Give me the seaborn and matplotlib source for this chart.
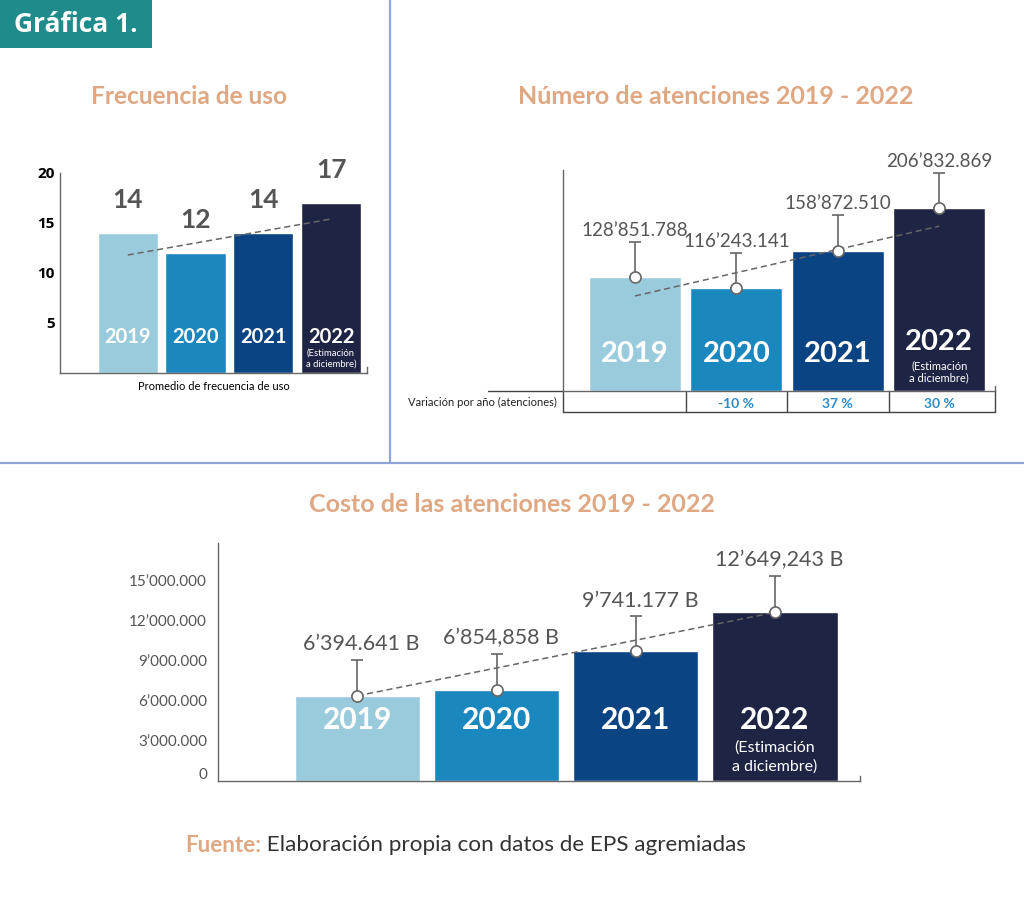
import matplotlib
matplotlib.use("Agg")
import matplotlib.pyplot as plt
import matplotlib.transforms as mtransforms
from matplotlib.patches import Rectangle
import numpy as np
import seaborn as sns

W, H = 1024, 899

YEARS = ["2019", "2020", "2021", "2022"]
COLORS = ["#9ACBDD", "#1A87BE", "#0B4482", "#1E2444"]

FREQ = [14, 12, 14, 17]
FREQ_TREND = [11.8, 15.4]

ATT = [128851788, 116243141, 158872510, 206832869]
ATT_LABELS = ["128’851.788", "116’243.141", "158’872.510", "206’832.869"]
ATT_ERR = [40e6, 40e6, 40e6, 40e6]
ATT_TREND = [107.5e6, 186.5e6]
ATT_VAR = ["", "-10 %", "37 %", "30 %"]

COST = [6394641, 6854858, 9741177, 12649243]
COST_LABELS = ["6’394.641 B", "6’854,858 B", "9’741.177 B", "12’649,243 B"]
COST_ERR = [2.7e6, 2.7e6, 2.6e6, 2.75e6]
COST_TREND = [6.39e6, 12.65e6]
COST_TICKS = [0, 3e6, 6e6, 9e6, 12e6, 15e6]
COST_TICK_LABELS = ["0", "3’000.000", "6’000.000", "9’000.000", "12’000.000", "15’000.000"]

TAN = "#DFA883"
TEAL = "#1F8B8A"
DIVIDER = "#8EA5D6"
GRAY = "#555555"
AXIS = "#666666"
BLUE_TXT = "#2D8BC7"


def px_axes(fig, left, top, right, bottom):
    return fig.add_axes([left / W, 1 - bottom / H, (right - left) / W, (bottom - top) / H])


def style_axis(ax, tick_len, show_right_tick=True):
    sns.despine(ax=ax, top=True, right=not show_right_tick)
    for side in ["left", "bottom", "right"]:
        ax.spines[side].set_color(AXIS)
        ax.spines[side].set_linewidth(1.0)
    ax.tick_params(axis="y", direction="in", length=tick_len, width=1.0, color=AXIS)
    ax.tick_params(axis="x", length=0)
    ax.set_xlabel("")
    ax.set_ylabel("")
    ax.set_xticks([])


def bars(ax, values, width):
    sns.barplot(x=YEARS, y=values, hue=YEARS, palette=COLORS, width=width,
                saturation=1, legend=False, ax=ax)


def year_labels(ax, y_main, y_est, main_size, est_size, est_dy, y_2022=None):
    for i, yr in enumerate(YEARS):
        yy = y_2022 if (i == 3 and y_2022 is not None) else y_main
        ax.text(i, yy, yr, color="white", ha="center", va="center",
                fontsize=main_size, fontweight="bold")
    ax.text(3, y_est, "(Estimación", color="white", ha="center", va="center", fontsize=est_size)
    ax.text(3, y_est - est_dy, "a diciembre)", color="white", ha="center", va="center", fontsize=est_size)


def main() -> None:
    sns.set_theme(style="white")
    plt.rcParams["font.family"] = ["Lato", "DejaVu Sans"]
    fig = plt.figure(figsize=(W / 100, H / 100), dpi=100, facecolor="white")

    # background decoration layer in pixel coordinates
    bg = fig.add_axes([0, 0, 1, 1])
    bg.set_xlim(0, W)
    bg.set_ylim(H, 0)
    bg.axis("off")
    bg.add_patch(Rectangle((0, 0), 152, 48, color=TEAL, lw=0))
    bg.text(14, 25, "Gráfica 1.", color="white", fontsize=19, fontweight="bold",
            va="center", ha="left", family=["Open Sans", "DejaVu Sans"])
    bg.plot([390, 390], [0, 463], color=DIVIDER, lw=1.6)
    bg.plot([0, W], [463, 463], color=DIVIDER, lw=1.6)
    bg.text(189, 97, "Frecuencia de uso", color=TAN, fontsize=17.6, fontweight="bold", ha="center", va="center")
    bg.text(716, 97, "Número de atenciones 2019 - 2022", color=TAN, fontsize=18, fontweight="bold", ha="center", va="center")
    bg.text(512, 505, "Costo de las atenciones 2019 - 2022", color=TAN, fontsize=18, fontweight="bold", ha="center", va="center")
    src = bg.text(185, 845, "Fuente:", color=TAN, fontsize=16.2, fontweight="bold", ha="left", va="center")
    bg.annotate(" Elaboración propia con datos de EPS agremiadas", xy=(1, 0.5), xycoords=src,
                color="#333333", fontsize=16.2, ha="left", va="center")

    # panel 1: frecuencia de uso
    ax1 = px_axes(fig, 60, 173, 367, 373)
    bars(ax1, FREQ, 0.89)
    ax1.set_ylim(0, 20)
    ax1.set_xlim(-1.0, 3.53)
    style_axis(ax1, 6)
    ax1.spines["right"].set_bounds(0, 0.6)
    ax1.set_yticks([5, 10, 15, 20])
    ax1.set_yticklabels(["5", "10", "15", "20"], fontweight="bold", fontsize=11, color="black",
                        family=["Open Sans", "DejaVu Sans"])
    ax1.tick_params(axis="y", pad=4)
    ax1.plot([0, 3], FREQ_TREND, ls=(0, (4, 2.5)), color=AXIS, lw=1.1)
    for i, v in enumerate(FREQ):
        ax1.text(i, v + 3.3, str(v), ha="center", va="center", fontsize=19, fontweight="bold", color=GRAY)
    year_labels(ax1, 3.6, 2.0, 14.5, 6.8, 1.15)
    ax1.text(0.5, -0.07, "Promedio de frecuencia de uso", transform=ax1.transAxes,
             ha="center", va="center", fontsize=8, color="black")

    # panel 2: numero de atenciones
    ax2 = px_axes(fig, 563, 170, 995, 391)
    bars(ax2, ATT, 0.907)
    ax2.set_ylim(0, 250e6)
    ax2.set_xlim(-0.71, 3.55)
    style_axis(ax2, 9)
    ax2.spines["right"].set_bounds(0, 6e6)
    ax2.set_yticks([50e6, 100e6, 150e6, 200e6, 250e6])
    ax2.set_yticklabels([])
    ax2.plot([0, 3], ATT_TREND, ls=(0, (4, 2.5)), color=AXIS, lw=1.1)
    ax2.errorbar(range(4), ATT, yerr=[np.zeros(4), ATT_ERR], fmt="o", ms=8, mfc="white",
                 mec=AXIS, mew=1.2, ecolor=AXIS, elinewidth=1.2, capsize=4, capthick=1.2, zorder=5)
    for i, (v, e, lab) in enumerate(zip(ATT, ATT_ERR, ATT_LABELS)):
        ax2.text(i, v + e + 13e6, lab, ha="center", va="center", fontsize=13.5, color=GRAY)
    year_labels(ax2, 41.5e6, 28.5e6, 21, 8, 14e6, y_2022=55e6)

    # table under panel 2
    trans = mtransforms.blended_transform_factory(ax2.transData, ax2.transAxes)
    line_kw = dict(color="#444444", lw=1.0, clip_on=False)
    ax2.plot([-0.174, 0], [0, 0], transform=ax2.transAxes, **line_kw)
    ax2.plot([0, 1], [-0.095, -0.095], transform=ax2.transAxes, **line_kw)
    for xa in [0, 1]:
        ax2.plot([xa, xa], [0, -0.095], transform=ax2.transAxes, **line_kw)
    for xd in [0.5, 1.5, 2.5]:
        ax2.plot([xd, xd], [0, -0.095], transform=trans, **line_kw)
    for i, t in enumerate(ATT_VAR):
        ax2.text(i, -0.057, t, transform=trans, ha="center", va="center",
                 fontsize=10, fontweight="bold", color=BLUE_TXT)
    ax2.text(-0.015, -0.05, "Variación por año (atenciones)", transform=ax2.transAxes,
             ha="right", va="center", fontsize=8, color="#222222")

    # panel 3: costo
    ax3 = px_axes(fig, 218, 543, 860, 781)
    bars(ax3, COST, 0.9)
    ax3.set_ylim(0, 17.85e6)
    ax3.set_xlim(-1.0, 3.61)
    style_axis(ax3, 12)
    ax3.spines["right"].set_bounds(0, 0.4e6)
    ax3.set_yticks(COST_TICKS[1:])
    ax3.set_yticklabels(COST_TICK_LABELS[1:], fontsize=11, color=GRAY)
    ax3.tick_params(axis="y", pad=8)
    ax3.text(-0.017, 0.025, COST_TICK_LABELS[0], transform=ax3.transAxes, ha="right",
             va="center", fontsize=11, color=GRAY)
    ax3.plot([0, 3], COST_TREND, ls=(0, (4, 2.5)), color=AXIS, lw=1.1)
    ax3.errorbar(range(4), COST, yerr=[np.zeros(4), COST_ERR], fmt="o", ms=8, mfc="white",
                 mec=AXIS, mew=1.2, ecolor=AXIS, elinewidth=1.2, capsize=4, capthick=1.2, zorder=5)
    for i, (v, e, lab) in enumerate(zip(COST, COST_ERR, COST_LABELS)):
        ax3.text(i + 0.03, v + e + 1.15e6, lab, ha="center", va="center", fontsize=15.5,
                 color=GRAY)
    year_labels(ax3, 4.55e6, 2.5e6, 21.5, 11.5, 1.45e6)

    fig.savefig("out.png", dpi=100, facecolor="white")
    plt.close(fig)


if __name__ == "__main__":
    main()
